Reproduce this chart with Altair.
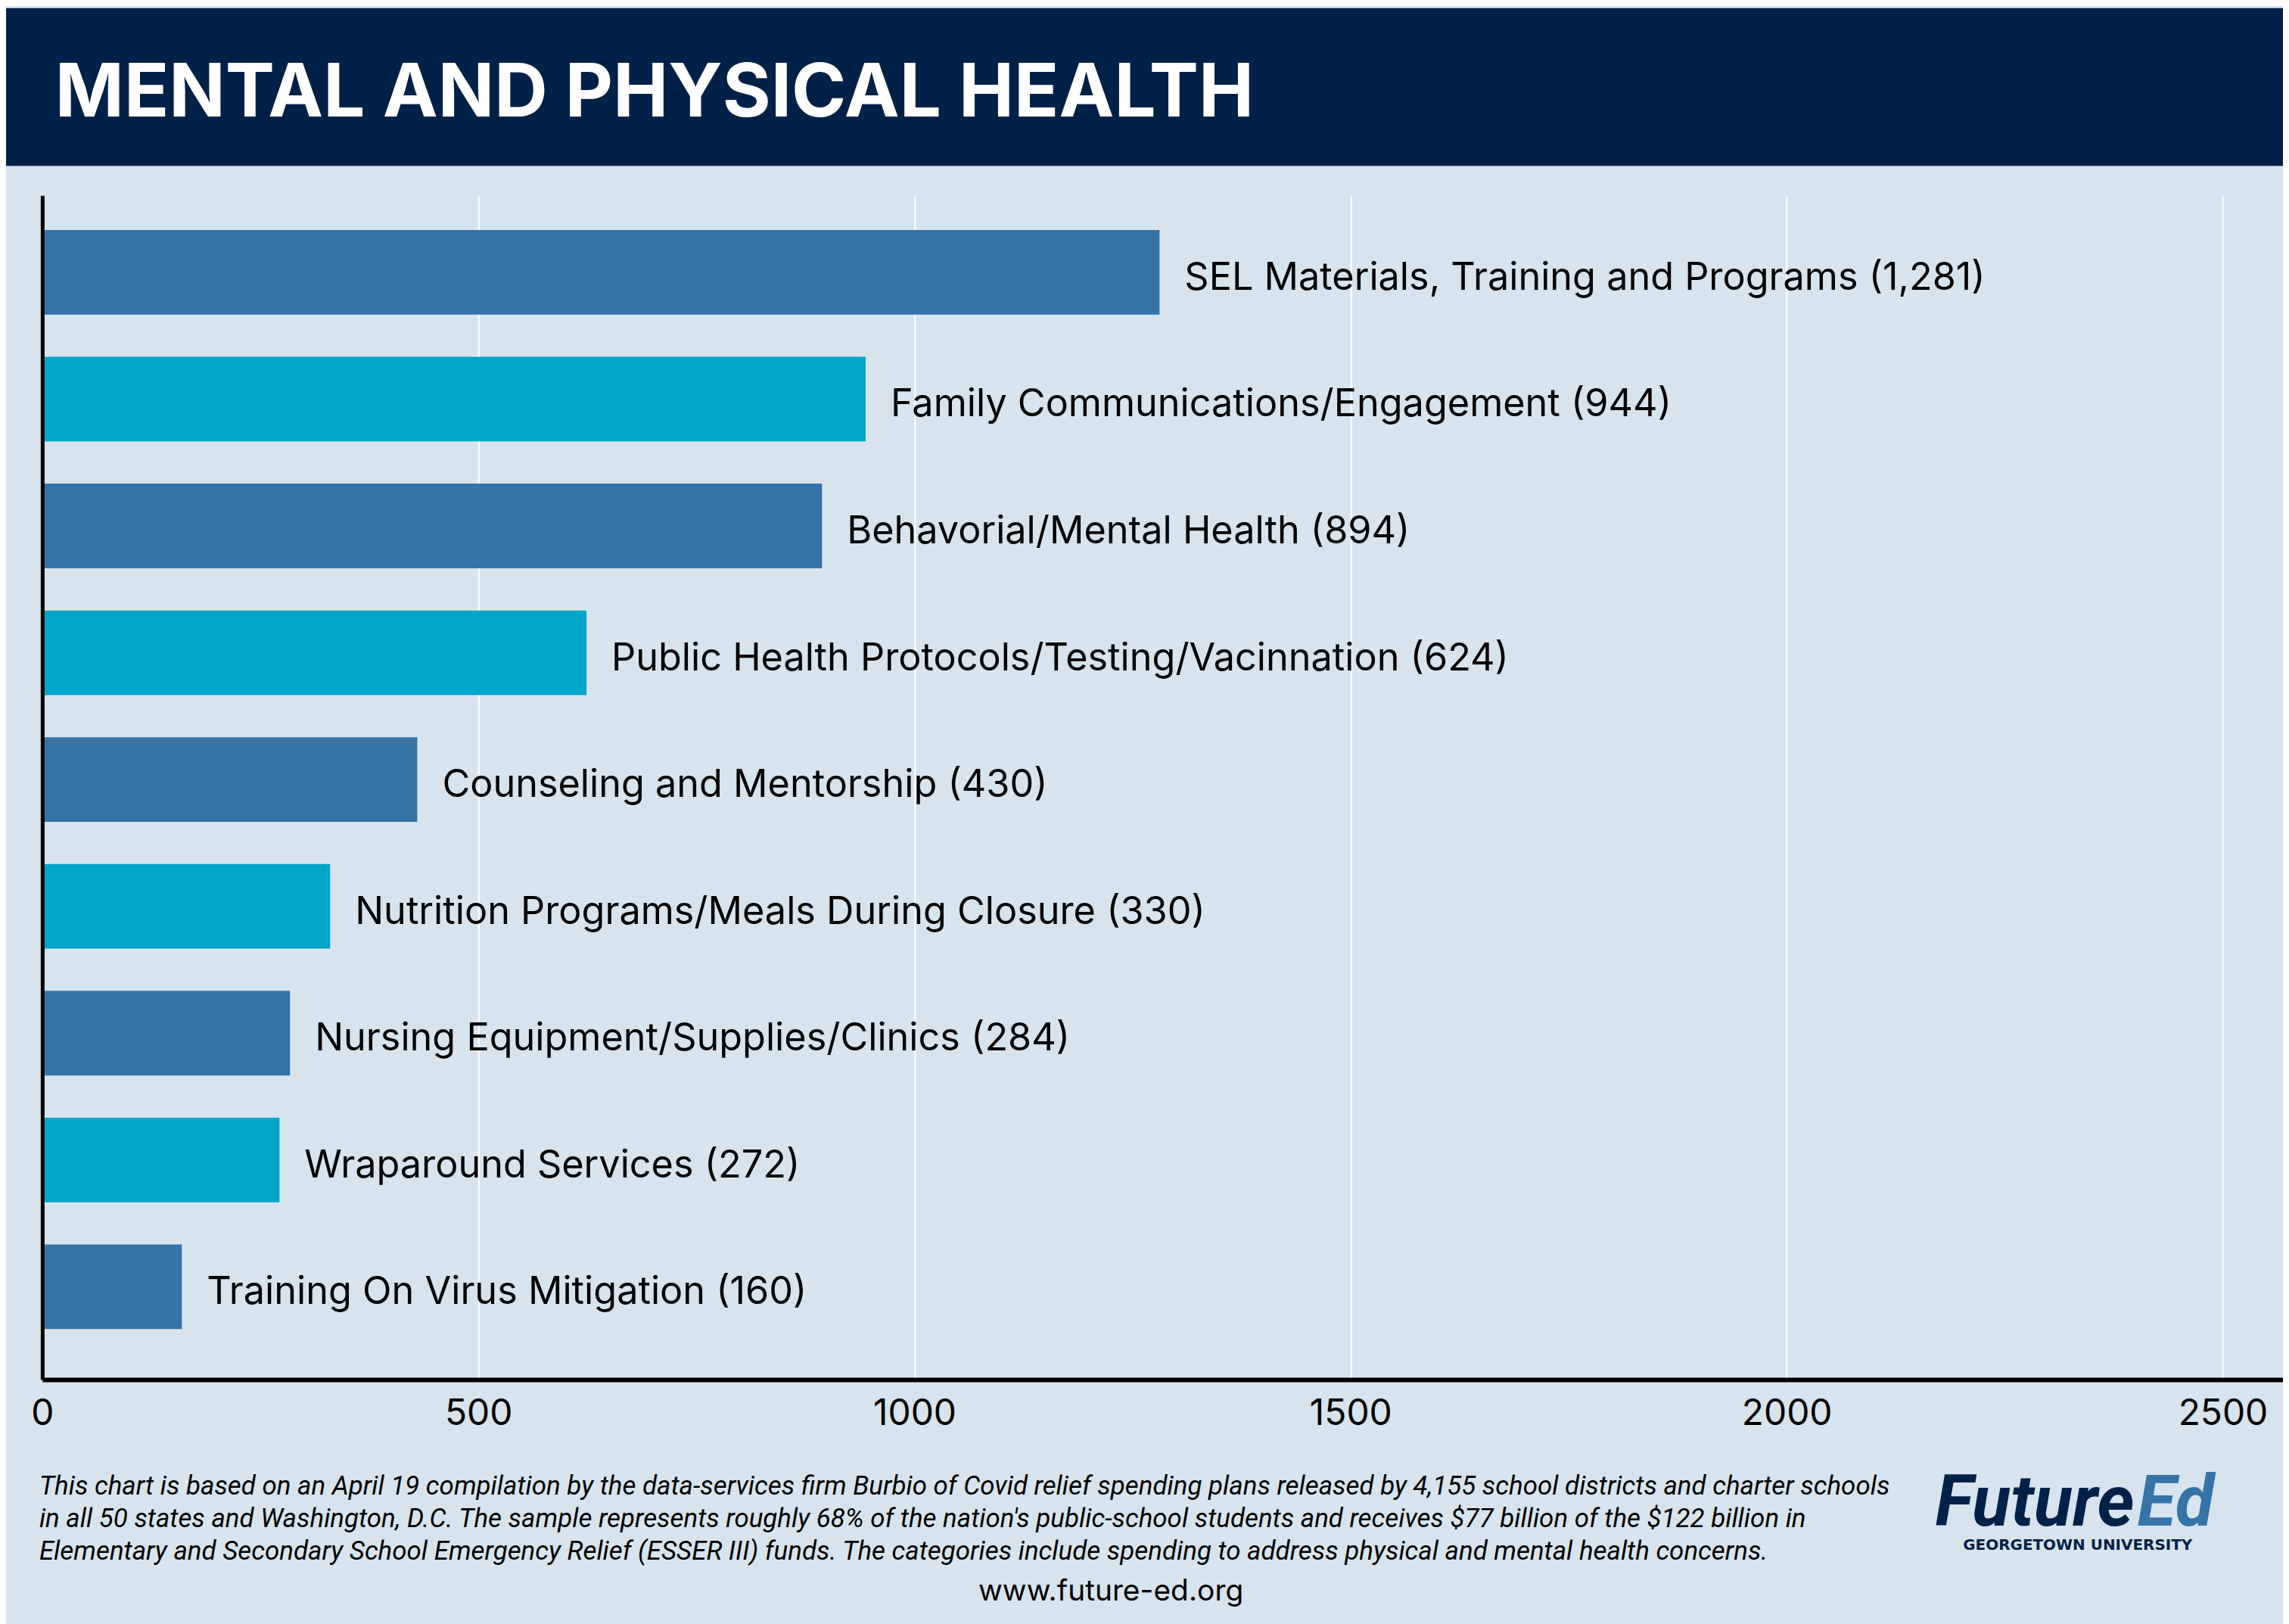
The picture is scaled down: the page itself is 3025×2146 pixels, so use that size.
import altair as alt
import pandas as pd

# ---------------- data ----------------
categories = [
    "SEL Materials, Training and Programs",
    "Family Communications/Engagement",
    "Behavorial/Mental Health",
    "Public Health Protocols/Testing/Vacinnation",
    "Counseling and Mentorship",
    "Nutrition Programs/Meals During Closure",
    "Nursing Equipment/Supplies/Clinics",
    "Wraparound Services",
    "Training On Virus Mitigation",
]
values = [1281, 944, 894, 624, 430, 330, 284, 272, 160]
shades = ["dark", "light", "dark", "light", "dark", "light", "dark", "light", "dark"]
x_ticks = [0, 500, 1000, 1500, 2000, 2500]

title_text = "MENTAL AND PHYSICAL HEALTH"
note_lines = [
    "This chart is based on an April 19 compilation by the data-services firm Burbio of Covid relief spending plans released by 4,155 school districts and charter schools",
    "in all 50 states and Washington, D.C. The sample represents roughly 68% of the nation's public-school students and receives $77 billion of the $122 billion in",
    "Elementary and Secondary School Emergency Relief (ESSER III) funds. The categories include spending to address physical and mental health concerns.",
]
url_text = "www.future-ed.org"
logo_a, logo_b, logo_sub = "Future", "Ed", "GEORGETOWN UNIVERSITY"

# ---------------- style ----------------
NAVY = "#002147"
BG = "#d7e4ee"
DARK = "#3674a8"
LIGHT = "#00a6c9"
W, H = 2969, 1569
PAD = {"left": 48, "top": 248, "right": 0, "bottom": 321}

df = pd.DataFrame({"category": categories, "value": values, "shade": shades})
df["label"] = [f"{c} ({v:,})" for c, v in zip(categories, values)]

x_enc = alt.X(
    "value:Q",
    scale=alt.Scale(domain=[0, 2569], nice=False, zero=True),
    axis=alt.Axis(
        values=x_ticks, title=None, grid=True, gridColor="white", gridWidth=2,
        domainColor="black", domainWidth=6, ticks=False, labelFontSize=48,
        labelFont="Inter", labelColor="black", labelPadding=22, labelFlush=False,
        format="d", zindex=0,
    ),
)
y_enc = alt.Y(
    "category:N", sort=categories,
    scale=alt.Scale(paddingInner=0.333, paddingOuter=0.336, align=0.407),
    axis=alt.Axis(title=None, labels=False, ticks=False, grid=False,
                  domainColor="black", domainWidth=5, zindex=1),
)

base = alt.Chart(df)
bars = base.mark_bar().encode(
    x=x_enc, y=y_enc,
    color=alt.Color("shade:N", scale=alt.Scale(domain=["dark", "light"], range=[DARK, LIGHT]), legend=None),
)
labels = base.mark_text(align="left", baseline="middle", dx=33, dy=8, fontSize=50.5,
                        font="Inter", color="black").encode(
    x="value:Q", y=alt.Y("category:N", sort=categories), text="label:N")

one = pd.DataFrame({"a": [0]})
header = alt.Chart(one).mark_rect(color=NAVY).encode(
    x=alt.value(-48), x2=alt.value(W), y=alt.value(-248), y2=alt.value(-39))
title = alt.Chart(one).mark_text(text=title_text, align="left", baseline="alphabetic",
                                 fontSize=98, fontWeight="bold", font="Inter",
                                 color="white").encode(x=alt.value(17), y=alt.value(-104))

note_layers = []
for i, line in enumerate(note_lines):
    note_layers.append(
        alt.Chart(one).mark_text(text=line, align="left", baseline="alphabetic",
                                 fontSize=35, fontStyle="italic", font="Roboto",
                                 color="black").encode(x=alt.value(-4), y=alt.value(1721 + i * 43.5))
    )
url = alt.Chart(one).mark_text(text=url_text, align="center", baseline="alphabetic",
                               fontSize=39, font="Inter", color="black").encode(
    x=alt.value(1416), y=alt.value(1862))
logo1 = alt.Chart(one).mark_text(text=logo_a, align="right", baseline="alphabetic",
                                 fontSize=94, fontStyle="italic", fontWeight="bold",
                                 font="Roboto", color=NAVY).encode(x=alt.value(2772), y=alt.value(1762))
logo2 = alt.Chart(one).mark_text(text=logo_b, align="left", baseline="alphabetic",
                                 fontSize=94, fontStyle="italic", fontWeight="bold",
                                 font="Roboto", color=DARK).encode(x=alt.value(2776), y=alt.value(1762))
logo3 = alt.Chart(one).mark_text(text=logo_sub, align="center", baseline="alphabetic",
                                 fontSize=20, fontWeight="bold", font="DejaVu Sans",
                                 color=NAVY).encode(x=alt.value(2697), y=alt.value(1795))

chart = alt.layer(
    bars, labels, header, title, *note_layers, url, logo1, logo2, logo3
).properties(
    width=W, height=H, padding=PAD,
    autosize=alt.AutoSizeParams(type="none"),
    background=BG,
).configure_view(stroke=None)

chart.save("out.html", embed_options={"renderer": "svg", "actions": False})
